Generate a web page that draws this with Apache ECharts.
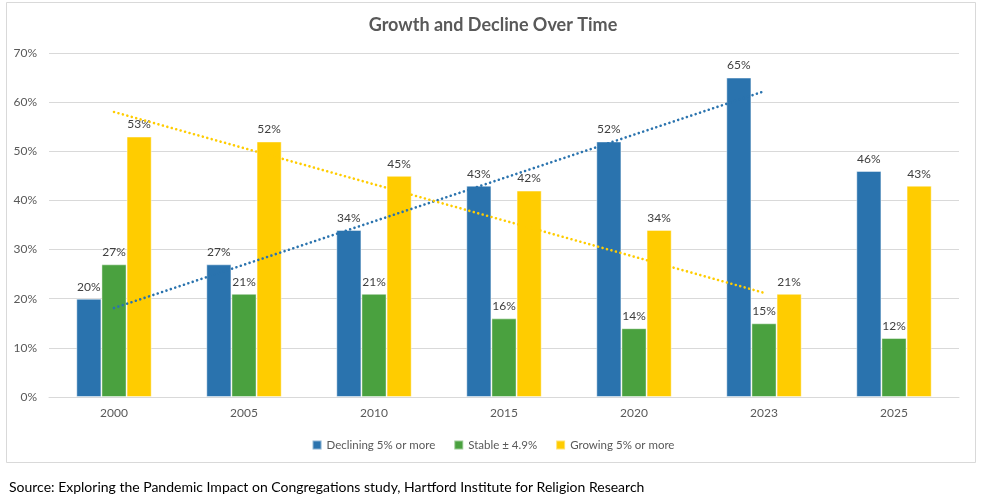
<!DOCTYPE html>
<html lang="en">
<head>
  <meta charset="UTF-8">
  <title>Growth and Decline Over Time</title>
  <script src="https://cdn.jsdelivr.net/npm/echarts@6.0.0/dist/echarts.min.js"></script>
  <style>
    body { margin: 0; background: #ffffff; }
    #chart { width: 986px; height: 500px; }
  </style>
</head>
<body>
  <div id="chart"></div>
  <script>
    const years = ['2000', '2005', '2010', '2015', '2020', '2023', '2025'];
    const declining = [20, 27, 34, 43, 52, 65, 46];
    const stable = [27, 21, 21, 16, 14, 15, 12];
    const growing = [53, 52, 45, 42, 34, 21, 43];
    // dotted trendlines (2000 -> 2023)
    const decliningTrend = [18.1, null, null, null, null, 62.2, null];
    const growingTrend = [58.0, null, null, null, null, 21.2, null];

    const chart = echarts.init(document.getElementById('chart'));
    const font = 'Lato, "Open Sans", sans-serif';
    const labelStyle = {
      show: true, position: 'top', distance: 6,
      formatter: '{c}%', color: '#404040', fontSize: 12, fontFamily: font
    };
    const dots = (color) => ({
      color: color, width: 2.6, type: [0.01, 4.6], cap: 'round'
    });

    const option = {
      backgroundColor: '#ffffff',
      animation: false,
      textStyle: { fontFamily: font },
      title: [
        {
          text: 'Growth and Decline Over Time',
          left: 'center', top: 11,
          textStyle: { fontSize: 18, fontWeight: 'bold', color: '#595959', fontFamily: font }
        },
        {
          text: 'Source: Exploring the Pandemic Impact on Congregations study, Hartford Institute for Religion Research',
          left: 4, top: 475,
          textStyle: { fontSize: 14, fontWeight: 'normal', color: '#000000', fontFamily: font }
        }
      ],
      graphic: [{
        type: 'rect', silent: true,
        shape: { x: 6.5, y: 2.5, width: 969, height: 460 },
        style: { fill: 'none', stroke: '#d9d9d9', lineWidth: 1 }
      }],
      legend: {
        data: ['Declining 5% or more', 'Stable ± 4.9%', 'Growing 5% or more'],
        left: 'center', top: 434,
        icon: 'rect', itemWidth: 9, itemHeight: 9, itemGap: 18,
        textStyle: { color: '#595959', fontSize: 11.5, fontFamily: font }
      },
      grid: { left: 49, right: 27, top: 53, bottom: 103 },
      xAxis: {
        type: 'category',
        data: years,
        axisLine: { lineStyle: { color: '#d9d9d9' } },
        axisTick: { show: false },
        axisLabel: { color: '#595959', fontSize: 12, margin: 10, fontFamily: font }
      },
      yAxis: {
        type: 'value',
        min: 0, max: 70, interval: 10,
        axisLine: { show: false },
        axisTick: { show: false },
        axisLabel: { formatter: '{value}%', color: '#595959', fontSize: 12, margin: 12, fontFamily: font },
        splitLine: { lineStyle: { color: '#d9d9d9' } }
      },
      series: [
        {
          name: 'Declining 5% or more', type: 'bar', data: declining,
          barGap: 0, barCategoryGap: '42%',
          itemStyle: { color: '#2a73ae', borderColor: 'rgba(255,255,255,0.45)', borderWidth: 1 },
          label: labelStyle
        },
        {
          name: 'Stable ± 4.9%', type: 'bar', data: stable,
          itemStyle: { color: '#4aa13f', borderColor: 'rgba(255,255,255,0.45)', borderWidth: 1 },
          label: labelStyle
        },
        {
          name: 'Growing 5% or more', type: 'bar', data: growing,
          itemStyle: { color: '#ffcc00', borderColor: 'rgba(255,255,255,0.45)', borderWidth: 1 },
          label: labelStyle
        },
        {
          name: 'Declining trend', type: 'line', data: decliningTrend,
          connectNulls: true, symbol: 'none', silent: true, z: 5,
          lineStyle: dots('#2a73ae')
        },
        {
          name: 'Growing trend', type: 'line', data: growingTrend,
          connectNulls: true, symbol: 'none', silent: true, z: 5,
          lineStyle: dots('#ffcc00')
        }
      ]
    };

    chart.setOption(option);
  </script>
</body>
</html>
